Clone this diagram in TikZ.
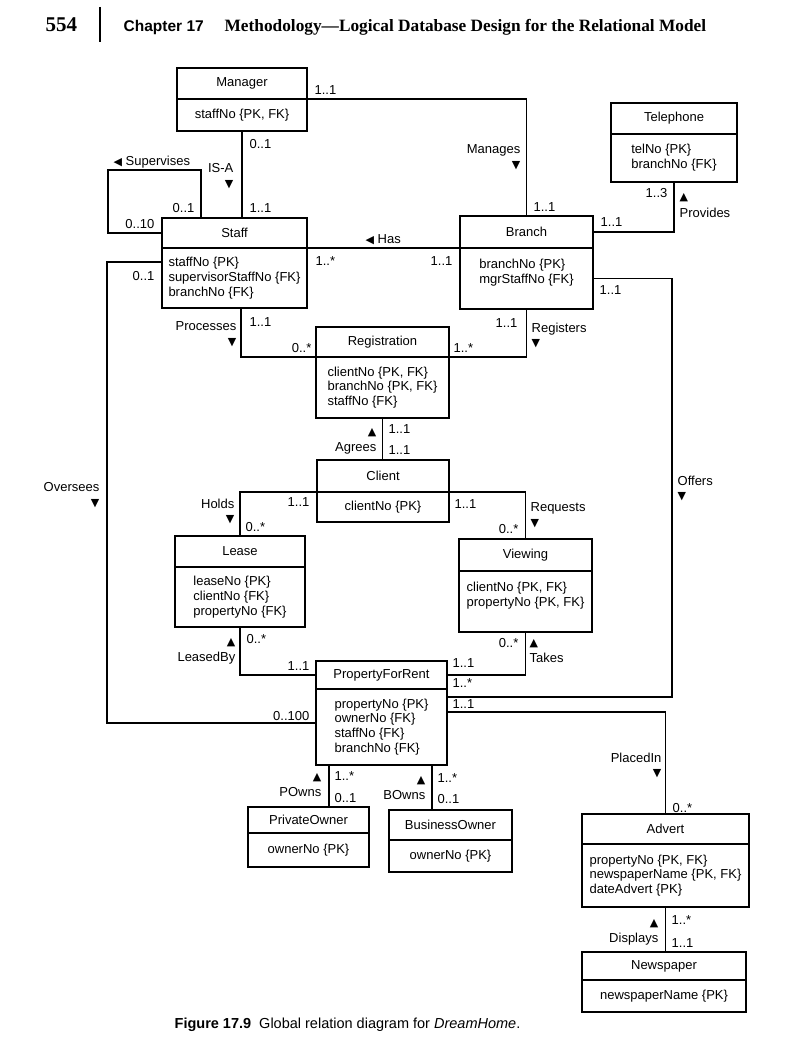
\documentclass[tikz,border=0pt]{standalone}
\usepackage{fontspec}
\setmainfont{Liberation Sans}
\newfontfamily\headserif{Liberation Serif}
\newfontfamily\symfont{DejaVu Sans}
\usetikzlibrary{positioning}
\newcommand{\tdn}{{\symfont\fontsize{11}{11}\selectfont ▼}}
\newcommand{\tup}{{\symfont\fontsize{11}{11}\selectfont ▲}}
\newcommand{\tlf}{{\symfont\fontsize{11}{11}\selectfont ◀}}

\begin{document}
\begin{tikzpicture}[x=1pt,y=-1pt,line width=1.3pt,
  txt/.style={font=\fontsize{13}{14.8}\selectfont},
  enthead/.style={draw,txt,inner sep=0pt,outer sep=0pt},
  entbody/.style={draw,txt,inner sep=0pt,outer sep=0pt,align=left},
  lbl/.style={txt,inner sep=0pt}]
    \fill[white] (0,0) rectangle (792,1062);
    % page head
    \node[anchor=base west,inner sep=0pt,font=\headserif\bfseries\fontsize{21}{21}\selectfont] (pageno) at (45,32) {554};
    \draw[line width=1.4pt] (100,7) -- (100,42);
    \node[anchor=base west,inner sep=0pt,font=\bfseries\fontsize{15.5}{16}\selectfont] (chapter) at (123,32) {Chapter 17};
    \node[anchor=base west,inner sep=0pt,font=\headserif\bfseries\fontsize{17.3}{18}\selectfont] (chaptitle) at (224,32) {Methodology—Logical Database Design for the Relational Model};
    % relations
    \node[enthead,minimum width=130pt,minimum height=31pt] (manager) at (242,83.5) {Manager};
    \node[entbody,minimum width=130pt,minimum height=32pt,below=0pt of manager] (manager-b) {staffNo \{PK, FK\}};
    \node[enthead,minimum width=145pt,minimum height=30pt] (staff) at (234.5,233) {Staff};
    \node[entbody,minimum width=145pt,minimum height=60pt,below=0pt of staff] (staff-b) {staffNo \{PK\}\\supervisorStaffNo \{FK\}\\branchNo \{FK\}};
    \node[enthead,minimum width=133pt,minimum height=32pt] (branch) at (526.5,232) {Branch};
    \node[entbody,minimum width=133pt,minimum height=61pt,below=0pt of branch] (branch-b) {branchNo \{PK\}\\mgrStaffNo \{FK\}\\\phantom{x}};
    \node[enthead,minimum width=126pt,minimum height=31pt] (telephone) at (674,118.5) {Telephone};
    \node[entbody,minimum width=126pt,minimum height=48pt,below=0pt of telephone] (telephone-b) {telNo \{PK\}\\branchNo \{FK\}};
    \node[enthead,minimum width=133pt,minimum height=30pt] (registration) at (382.5,342) {Registration};
    \node[entbody,minimum width=133pt,minimum height=61pt,below=0pt of registration] (registration-b) {clientNo \{PK, FK\}\\branchNo \{PK, FK\}\\staffNo \{FK\}};
    \node[enthead,minimum width=132pt,minimum height=32pt] (client) at (383,476) {Client};
    \node[entbody,minimum width=132pt,minimum height=30pt,below=0pt of client] (client-b) {clientNo \{PK\}};
    \node[enthead,minimum width=130pt,minimum height=31pt] (lease) at (240,551.5) {Lease};
    \node[entbody,minimum width=130pt,minimum height=60pt,below=0pt of lease] (lease-b) {leaseNo \{PK\}\\clientNo \{FK\}\\propertyNo \{FK\}};
    \node[enthead,minimum width=133pt,minimum height=32pt] (viewing) at (525.5,555) {Viewing};
    \node[entbody,minimum width=133pt,minimum height=61pt,below=0pt of viewing] (viewing-b) {clientNo \{PK, FK\}\\propertyNo \{PK, FK\}\\\phantom{x}};
    \node[enthead,minimum width=131pt,minimum height=28pt] (pfr) at (381.5,675) {PropertyForRent};
    \node[entbody,minimum width=131pt,minimum height=76pt,below=0pt of pfr] (pfr-b) {propertyNo \{PK\}\\ownerNo \{FK\}\\staffNo \{FK\}\\branchNo \{FK\}};
    \node[enthead,minimum width=121pt,minimum height=26pt] (privateowner) at (308.5,820) {PrivateOwner};
    \node[entbody,minimum width=121pt,minimum height=34pt,below=0pt of privateowner] (privateowner-b) {ownerNo \{PK\}};
    \node[enthead,minimum width=123pt,minimum height=30pt] (businessowner) at (450.5,825) {BusinessOwner};
    \node[entbody,minimum width=123pt,minimum height=32pt,below=0pt of businessowner] (businessowner-b) {ownerNo \{PK\}};
    \node[enthead,minimum width=167pt,minimum height=30pt] (advert) at (665.5,829) {Advert};
    \node[entbody,minimum width=167pt,minimum height=63pt,below=0pt of advert] (advert-b) {propertyNo \{PK, FK\}\\newspaperName \{PK, FK\}\\dateAdvert \{PK\}};
    \node[enthead,minimum width=164pt,minimum height=28pt] (newspaper) at (664,966) {Newspaper};
    \node[entbody,minimum width=164pt,minimum height=32pt,below=0pt of newspaper] (newspaper-b) {newspaperName \{PK\}};
    % links
    \draw (manager-b.south) -- (manager-b.south |- staff.north);
    \draw (manager.south east) -| (branch.north);
    \draw (staff.north -| 201,0) |- (108,170) |- (staff.west);
    \draw (staff-b.west |- 0,262) -| (107,723) -- (pfr-b.west |- 0,723);
    \draw (staff.south east) -- (branch.south west);
    \draw (telephone-b.south) |- (branch.east);
    \draw (branch-b.east) -| (672,697) -- (pfr-b.east |- 0,697);
    \draw (staff-b.south -| 241,0) |- (registration.south west);
    \draw (branch-b.south) |- (registration.south east);
    \draw (registration-b.south) -- (registration-b.south |- client.north);
    \draw (client.south west) -| (lease.north);
    \draw (client.south east) -| (viewing.north);
    \draw (lease-b.south) |- (pfr.west);
    \draw (viewing-b.south) |- (pfr.east);
    \draw (pfr-b.east |- 0,712) -| (advert.north);
    \draw (pfr-b.south -| 329,0) -- (privateowner.north -| 329,0);
    \draw (pfr-b.south -| 432,0) -- (businessowner.north -| 432,0);
    \draw (advert-b.south) -- (advert-b.south |- newspaper.north);
    % multiplicities
    \foreach \x/\y/\m [count=\i] in {314/95/1..1, 249/148/0..1, 249/212/1..1, 315/265/1..*,
        533/211/1..1, 600/226/1..1, 599/294/1..1, 249/326/1..1, 453/352/1..*, 388/433/1..1,
        388/454/1..1, 245/531/0..*, 454/508/1..1, 246/643/0..*, 452/667/1..1, 452/687/1..*,
        452/708/1..1, 672/812/0..*, 334/780/1..*, 334/802/0..1, 437/782/1..*, 437/803/0..1,
        671/924/1..*, 671/947/1..1}
        \node[lbl,anchor=base west] (mw-\i) at (\x,\y) {\m};
    \foreach \x/\y/\m [count=\i] in {195/212/0..1, 155/228/0..10, 155/280/0..1, 453/265/1..1,
        668/197/1..3, 312/352/0..*, 518/327/1..1, 310/506/1..1, 519/533/0..*, 310/670/1..1,
        519/647/0..*, 310/720/0..100}
        \node[lbl,anchor=base east] (me-\i) at (\x,\y) {\m};
    % relationship names
    \node[lbl,anchor=base west] (supervises) at (113,165) {\tlf\ Supervises};
    \node[lbl,anchor=base west] (has) at (365,243) {\tlf\ Has};
    \node[lbl,align=right,anchor=north east] (isa) at (234,163) {IS-A\\\tdn};
    \node[lbl,align=right,anchor=north east] (manages) at (521,144) {Manages\\\tdn};
    \node[lbl,align=right,anchor=north east] (processes) at (237,321) {Processes\\\tdn};
    \node[lbl,align=left,anchor=north west] (registers) at (531,322) {Registers\\\tdn};
    \node[lbl,align=right,anchor=north east] (holds) at (235,498) {Holds\\\tdn};
    \node[lbl,align=left,anchor=north west] (requests) at (530,502) {Requests\\\tdn};
    \node[lbl,align=right,anchor=north east] (oversees) at (100,482) {Oversees\\\tdn};
    \node[lbl,align=left,anchor=north west] (offers) at (677,475) {Offers\\\tdn};
    \node[lbl,align=right,anchor=north east] (placedin) at (662,752) {PlacedIn\\\tdn};
    \node[lbl,align=left,anchor=north west] (provides) at (679,193) {\tup\\[2pt]Provides};
    \node[lbl,align=right,anchor=north east] (agrees) at (377,428) {\tup\\[1pt]Agrees};
    \node[lbl,align=right,anchor=north east] (leasedby) at (236,638) {\tup\\[1pt]LeasedBy};
    \node[lbl,align=left,anchor=north west] (takes) at (529,639) {\tup\\[1pt]Takes};
    \node[lbl,align=right,anchor=north east] (powns) at (322,773) {\tup\\[1pt]POwns};
    \node[lbl,align=right,anchor=north east] (bowns) at (426,776) {\tup\\[1pt]BOwns};
    \node[lbl,align=right,anchor=north east] (displays) at (659,919) {\tup\\[1pt]Displays};
    % caption
    \node[anchor=base west,inner sep=0pt,font=\fontsize{14.5}{15}\selectfont] (caption) at (174,1028) {\textbf{Figure 17.9}\hspace{4pt} Global relation diagram for \textit{DreamHome}.};
\end{tikzpicture}
\end{document}
